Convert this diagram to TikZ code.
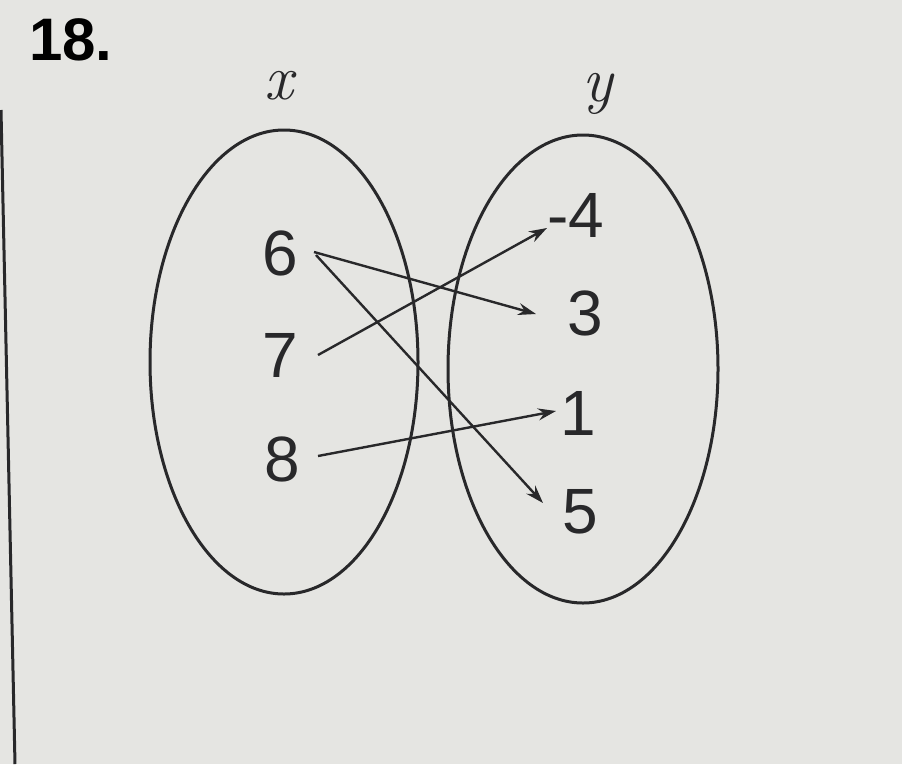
\documentclass[tikz,border=0pt]{standalone}
\usepackage{fontspec}
\usetikzlibrary{arrows.meta}
\newfontfamily\digitfont{Liberation Sans}
\newfontfamily\labfont{Latin Modern Roman}
\definecolor{paper}{RGB}{229,229,226}
\definecolor{ink}{RGB}{40,40,42}
\begin{document}
\begin{tikzpicture}[x=1pt,y=-1pt,
  setoval/.style={draw=ink,line width=3pt},
  val/.style={font=\digitfont\fontsize{64}{64}\selectfont,text=ink,inner sep=0pt},
  varlab/.style={font=\labfont\itshape\fontsize{64}{64}\selectfont,text=ink,inner sep=0pt},
  mapto/.style={draw=ink,line width=2.4pt,-{Stealth[length=18pt,width=12pt,inset=6pt]}}]
\fill[paper] (0,0) rectangle (902,764);
\useasboundingbox (0,0) rectangle (902,764);
% left border line of the page
\coordinate (b1) at (1,110);
\coordinate (b2) at (15,764);
\draw[ink,line width=3pt] (b1) -- (b2);
% problem number
\node[font=\digitfont\bfseries\fontsize{60}{60}\selectfont,text=black,inner sep=0pt,anchor=west] (num) at (29,40) {18.};
% set labels
\node[varlab] (lx) at (279,86) {x};
\node[varlab] (ly) at (598,94) {y};
% ovals
\draw[setoval] (284,362) ellipse [x radius=134, y radius=232];
\draw[setoval] (583,369) ellipse [x radius=135, y radius=234];
% domain
\node[val] (n6) at (280,253) {6};
\node[val] (n7) at (280,355) {7};
\node[val] (n8) at (282,459) {8};
% range
\node[val] (m4) at (576,215) {-4};
\node[val] (m3) at (585,313) {3};
\node[val] (m1) at (578,413) {1};
\node[val] (m5) at (580,512) {5};
% arrow ends
\coordinate (s6a) at (314,252);
\coordinate (s6b) at (316,255);
\coordinate (s7) at (318,355);
\coordinate (s8) at (318,456);
\coordinate (t4) at (547,228);
\coordinate (t3) at (536,314);
\coordinate (t1) at (556,411);
\coordinate (t5) at (543,503);
\draw[mapto] (s6a) -- (t3);
\draw[mapto] (s6b) -- (t5);
\draw[mapto] (s7) -- (t4);
\draw[mapto] (s8) -- (t1);
\end{tikzpicture}
\end{document}
